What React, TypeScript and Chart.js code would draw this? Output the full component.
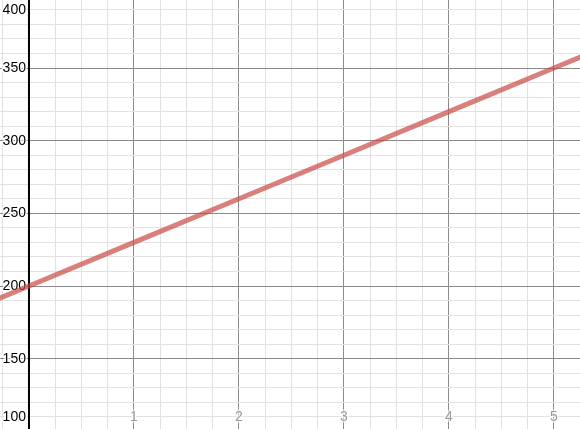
import React, { useEffect, useRef } from "react";
import Chart from "chart.js/auto";

// line: y = 200 + 30x
const lineX = [-0.5, 0, 1, 2, 3, 4, 5, 5.5];
const lineY = [185, 200, 230, 260, 290, 320, 350, 365];

const xTickLabels = [1, 2, 3, 4, 5];
const yTickLabels = [100, 150, 200, 250, 300, 350, 400];

const X_MIN = -0.276;
const X_MAX = 5.248;
const Y_MIN = 101.6;
const Y_MAX = 396.8;

const gridValues = (min: number, max: number, step: number) => {
  const out: number[] = [];
  for (let v = Math.ceil(min / step) * step; v <= max; v += step) {
    out.push(Math.round(v * 1000) / 1000);
  }
  return out;
};

const labelsPlugin = {
  id: "axisLabels",
  beforeDatasetsDraw(chart: any) {
    const { ctx, chartArea, scales } = chart;
    const xs = scales.x;
    const ys = scales.y;
    const axisX = xs.getPixelForValue(0);
    ctx.save();

    // y axis
    ctx.strokeStyle = "#000";
    ctx.lineWidth = 2;
    ctx.beginPath();
    ctx.moveTo(axisX, chartArea.top);
    ctx.lineTo(axisX, chartArea.bottom);
    ctx.stroke();

    ctx.font = "14px 'Liberation Sans', Arial, sans-serif";
    ctx.lineJoin = "round";

    // y labels, black, left of the y axis
    ctx.textAlign = "right";
    ctx.textBaseline = "middle";
    yTickLabels.forEach((v) => {
      let py = ys.getPixelForValue(v);
      py = Math.min(Math.max(py, chartArea.top + 10), chartArea.bottom - 12);
      const t = String(v);
      ctx.lineWidth = 3;
      ctx.strokeStyle = "rgba(255,255,255,0.9)";
      ctx.strokeText(t, axisX - 3, py);
      ctx.fillStyle = "#000";
      ctx.fillText(t, axisX - 3, py);
    });

    // x labels, grey, pinned at the bottom (x axis is off screen)
    ctx.textAlign = "center";
    xTickLabels.forEach((v) => {
      const px = xs.getPixelForValue(v);
      const py = chartArea.bottom - 12;
      const t = String(v);
      ctx.lineWidth = 3;
      ctx.strokeStyle = "rgba(255,255,255,0.7)";
      ctx.strokeText(t, px, py);
      ctx.fillStyle = "#9a9a9a";
      ctx.fillText(t, px, py);
    });
    ctx.restore();
  },
};

const App = () => {
  const chartRef = useRef<HTMLCanvasElement>(null);
  const chartInstanceRef = useRef<any>(null);

  useEffect(() => {
    const ctx = chartRef.current!.getContext("2d")!;
    if (chartInstanceRef.current) {
      chartInstanceRef.current.destroy();
    }

    chartInstanceRef.current = new Chart(ctx, {
      type: "line",
      data: {
        datasets: [
          {
            data: lineX.map((x, i) => ({ x, y: lineY[i] })),
            borderColor: "rgba(199, 68, 64, 0.68)",
            borderWidth: 5,
            pointRadius: 0,
            fill: false,
            tension: 0,
          },
        ],
      },
      options: {
        animation: false,
        responsive: true,
        maintainAspectRatio: false,
        layout: { padding: 0 },
        plugins: {
          legend: { display: false },
          tooltip: { enabled: false },
        },
        scales: {
          x: {
            type: "linear",
            min: X_MIN,
            max: X_MAX,
            afterBuildTicks: (scale: any) => {
              scale.ticks = gridValues(X_MIN, X_MAX, 0.25).map((value) => ({ value }));
            },
            ticks: { display: false },
            border: { display: false },
            grid: {
              drawTicks: false,
              color: (c: any) => {
                const v = c.tick.value;
                if (Math.abs(v) < 1e-6) return "rgba(0,0,0,0)";
                return Math.abs(v - Math.round(v)) < 1e-6 ? "#8a8a8a" : "#e2e2e2";
              },
              lineWidth: 1,
            },
          },
          y: {
            type: "linear",
            min: Y_MIN,
            max: Y_MAX,
            afterBuildTicks: (scale: any) => {
              scale.ticks = gridValues(Y_MIN, Y_MAX, 10).map((value) => ({ value }));
            },
            ticks: { display: false },
            border: { display: false },
            grid: {
              drawTicks: false,
              color: (c: any) => (c.tick.value % 50 === 0 ? "#8a8a8a" : "#e2e2e2"),
              lineWidth: 1,
            },
          },
        },
      },
      plugins: [labelsPlugin],
    });

    return () => {
      if (chartInstanceRef.current) {
        chartInstanceRef.current.destroy();
        chartInstanceRef.current = null;
      }
    };
  }, []);

  return (
    <div style={{ position: "fixed", left: 0, top: 0, width: 580, height: 429, background: "#fff" }}>
      <canvas ref={chartRef} />
    </div>
  );
};

export default App;
